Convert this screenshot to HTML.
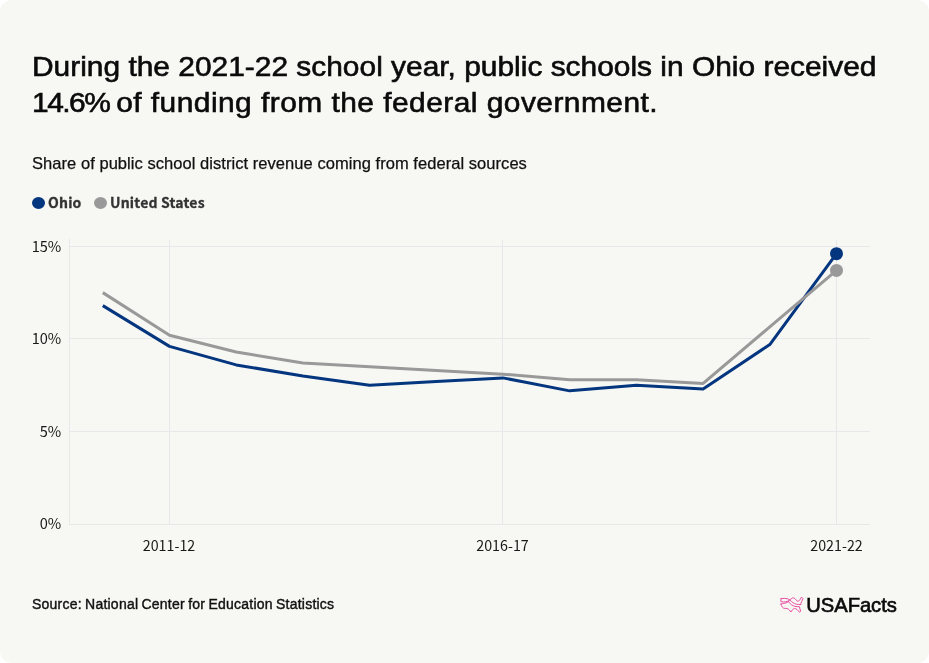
<!DOCTYPE html>
<html lang="en">
<head>
<meta charset="utf-8">
<title>Share of public school district revenue coming from federal sources</title>
<style>
html,body{margin:0;padding:0;background:#fff;}
body{width:929px;height:663px;overflow:hidden;position:relative;font-family:"Liberation Sans",sans-serif;}
.card{position:absolute;left:0;top:0;width:929px;height:663px;background:#f7f7f3;border-radius:12px;}
.card>*{will-change:transform;}
h1{position:absolute;left:32px;top:48.5px;margin:0;font-family:"Liberation Sans",sans-serif;font-weight:400;font-size:28px;line-height:36px;color:#0b0b0b;white-space:nowrap;transform-origin:0 0;transform:scaleX(1.068);-webkit-text-stroke:0.6px #0b0b0b;}
.sub{position:absolute;left:32px;top:153px;margin:0;font-size:16.5px;line-height:20px;color:#111;white-space:nowrap;letter-spacing:0.05px;-webkit-text-stroke:0.25px #111;}
.legend{position:absolute;left:32px;top:191.2px;height:22px;font-family:"Noto Sans CJK SC","Liberation Sans",sans-serif;font-weight:700;font-size:14px;line-height:22px;color:#333;white-space:nowrap;letter-spacing:0.2px;-webkit-text-stroke:0.3px #333;}
.legend span.it{position:absolute;top:0;}
.legend i{position:absolute;top:5.8px;width:13px;height:12px;border-radius:50%;}
.chart{position:absolute;left:0;top:0;}
.chart text{font-family:"Noto Sans CJK SC","Liberation Sans",sans-serif;font-size:14.6px;fill:#181818;}
.chart .xl text{font-size:14.25px;}
.src{position:absolute;left:32px;top:595px;font-size:14px;line-height:18px;color:#111;white-space:nowrap;letter-spacing:0.22px;word-spacing:-0.8px;-webkit-text-stroke:0.4px #111;}
.logo{position:absolute;left:779px;top:592px;height:24px;white-space:nowrap;}
.logo svg{position:absolute;left:0;top:3px;}
.logo b{position:absolute;left:27.3px;top:1px;font-size:20.2px;line-height:24px;font-weight:400;color:#0b0b0b;letter-spacing:-0.05px;-webkit-text-stroke:0.65px #0b0b0b;}
</style>
</head>
<body>
<div class="card">
<h1>During the 2021-22 school year, public schools in Ohio received<br><span style="letter-spacing:-1.4px">14.6% </span><span style="letter-spacing:0.44px">of funding from the federal government.</span></h1>
<p class="sub">Share of public school district revenue coming from federal sources</p>
<div class="legend">
<i style="left:0;background:#04357f"></i><span class="it" style="left:16px">Ohio</span>
<i style="left:62px;background:#999"></i><span class="it" style="left:78px">United States</span>
</div>
<svg class="chart" width="929" height="663" viewBox="0 0 929 663">
<g stroke="#e8e8ea" stroke-width="1" shape-rendering="crispEdges" fill="none">
<line x1="69.5" y1="239" x2="69.5" y2="525"/>
<line x1="69" y1="246.5" x2="870" y2="246.5"/>
<line x1="69" y1="338.5" x2="870" y2="338.5"/>
<line x1="69" y1="431.5" x2="870" y2="431.5"/>
<line x1="69" y1="524.5" x2="870" y2="524.5"/>
<line x1="169.5" y1="240" x2="169.5" y2="525"/>
<line x1="502.5" y1="240" x2="502.5" y2="525"/>
<line x1="836.5" y1="240" x2="836.5" y2="525"/>
</g>
<g text-anchor="end">
<text x="61.3" y="251.5">15%</text>
<text x="61.3" y="343.8">10%</text>
<text x="61.3" y="436.9">5%</text>
<text x="61.3" y="528.5">0%</text>
</g>
<g text-anchor="middle" class="xl">
<text x="169" y="551">2011-12</text>
<text x="502.5" y="551">2016-17</text>
<text x="836.5" y="551">2021-22</text>
</g>
<polyline points="102.80,305.61 169.50,346.38 236.20,364.91 302.90,376.03 369.60,385.30 436.30,381.59 503.00,377.89 569.70,390.86 636.40,385.30 703.10,389.01 769.80,344.53 836.50,253.71" fill="none" stroke="#04357f" stroke-width="3" stroke-linejoin="round"/>
<polyline points="102.80,292.63 169.50,335.26 236.20,351.94 302.90,363.06 369.60,366.77 436.30,370.47 503.00,374.18 569.70,379.74 636.40,379.74 703.10,383.45 769.80,326.92 836.50,270.39" fill="none" stroke="#999" stroke-width="3" stroke-linejoin="round"/>
<circle cx="836.50" cy="270.39" r="6.5" fill="#999"/>
<circle cx="836.50" cy="253.71" r="6.5" fill="#04357f"/>
</svg>
<div class="src">Source: National Center for Education Statistics</div>
<div class="logo">
<svg width="27" height="19" viewBox="0 0 27 19" fill="none" stroke="#e7479f" stroke-width="0.95" stroke-linejoin="round" stroke-linecap="round">
<path d="M2.1 3.5 C4.4 3.2 6.8 3.4 8.8 3.8 C9.6 4.1 10.3 4.6 10.9 5 C11.9 6 12.8 6.9 13.9 7.6 C15 8.4 16.2 8.9 17.4 9.2 C18.8 9.5 20.3 9.6 21.7 9.5"/>
<path d="M2 3.6 L1.9 6.7 C3.4 7 5.2 7 6.8 6.8 C8.4 6.5 9.8 5.9 10.9 5 C11.7 4.2 12.5 3.3 13.5 2.9 C14.3 2.7 15.2 2.9 15.8 3.5 C16.8 4.4 17.4 5.8 18.6 6.2 C19.8 6.3 20.7 5.3 21.3 4.2 L22.5 2.1 L24 3.7 C23.6 4.8 22.9 5.8 22.5 6.8 C22.1 7.7 21.9 8.6 21.7 9.5"/>
<path d="M1.9 9 C3.7 8.7 5.5 8.4 7.2 7.8 C8.2 7.4 9.1 6.8 9.9 6.2"/>
<path d="M9.9 7.2 C10.8 8.2 11.7 9.2 12.7 9.9 C13.7 10.6 14.7 11 15.8 11.3 C17.4 11.6 19 11.7 20.5 11.7 C20.6 12.4 20.7 13.2 20.9 13.9 C21.1 14.7 21.4 15.4 21.7 16.2 L20.5 17.3 C19.8 16.4 19.1 15.4 18.2 14.7 C17.4 14 16.4 13.5 15.4 13.5 C14.6 13.6 14 14.1 13.5 14.7 C12.9 15.4 12.5 16.3 11.9 17 C11.4 16.3 10.9 15.6 10.3 15 C9.7 14.3 8.9 13.7 8 13.5 C7 13.3 5.9 13.5 4.8 13.3 C3.8 12.8 3 11.8 2.5 10.7 C2.2 10.1 2 9.5 1.9 9"/>
</svg>
<b>USAFacts</b>
</div>
</div>
</body>
</html>
